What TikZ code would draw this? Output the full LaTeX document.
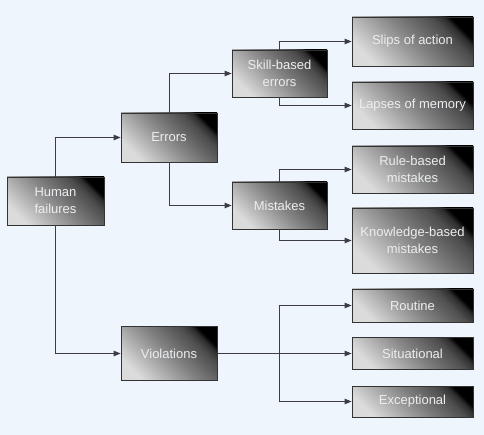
\documentclass[tikz,border=0pt]{standalone}
\usepackage{fontspec}
\setmainfont{Liberation Sans}
\usetikzlibrary{arrows.meta}
\definecolor{bgc}{RGB}{238,245,252}
\definecolor{txtc}{RGB}{235,238,240}
\definecolor{linec}{RGB}{60,60,66}
\pgfdeclareverticalshading{boxshade}{100bp}{color(0bp)=(black!14); color(25bp)=(black!14); color(50bp)=(black!48); color(68bp)=(black!70); color(73bp)=(black!82); color(76bp)=(black); color(100bp)=(black)}
\tikzset{
  box/.style={draw=black!80, line width=0.8pt, shading=boxshade, shading angle=-45,
    text=txtc, align=center, inner sep=2pt,
    font=\fontsize{13}{17}\selectfont},
  arr/.style={draw=linec, line width=0.9pt, -{Triangle[length=7pt,width=5.5pt]}}
}
\begin{document}
\begin{tikzpicture}[x=1pt,y=-1pt]
\fill[bgc] (0,0) rectangle (484,435);
\useasboundingbox (0,0) rectangle (484,435);
\node[box, minimum width=97pt, minimum height=48pt] (hf) at (55.5,201) {Human\\failures};
\node[box, minimum width=96pt, minimum height=49pt] (err) at (169,137.5) {Errors};
\node[box, minimum width=96pt, minimum height=54pt] (vio) at (169,353.5) {Violations};
\node[box, minimum width=95pt, minimum height=47pt] (skill) at (279.5,73.5) {Skill-based\\errors};
\node[box, minimum width=95pt, minimum height=47pt] (mis) at (279.5,205.5) {Mistakes};
\node[box, minimum width=121pt, minimum height=49pt] (slips) at (412.5,41.5) {Slips of action};
\node[box, minimum width=121pt, minimum height=47pt] (lapses) at (412.5,105.5) {Lapses of memory};
\node[box, minimum width=121pt, minimum height=47pt] (rule) at (412.5,169.5) {Rule-based\\mistakes};
\node[box, minimum width=121pt, minimum height=65pt] (know) at (412.5,240.5) {Knowledge-based\\mistakes};
\node[box, minimum width=121pt, minimum height=33pt] (rout) at (412.5,305.5) {Routine};
\node[box, minimum width=121pt, minimum height=32pt] (sit) at (412.5,353.5) {Situational};
\node[box, minimum width=121pt, minimum height=31pt] (exc) at (412.5,401.5) {Exceptional};
\coordinate (vj) at (279,353.5);
\draw[arr] (hf.north) |- (err.west);
\draw[arr] (hf.south) |- (vio.west);
\draw[arr] (err.north) |- (skill.west);
\draw[arr] (err.south) |- (mis.west);
\draw[arr] (skill.north) |- (slips.west);
\draw[arr] (skill.south) |- (lapses.west);
\draw[arr] (mis.north) |- (rule.west);
\draw[arr] (mis.south) |- (know.west);
\draw[arr] (vio.east) -- (sit.west);
\draw[arr] (vj) |- (rout.west);
\draw[arr] (vj) |- (exc.west);
\end{tikzpicture}
\end{document}
